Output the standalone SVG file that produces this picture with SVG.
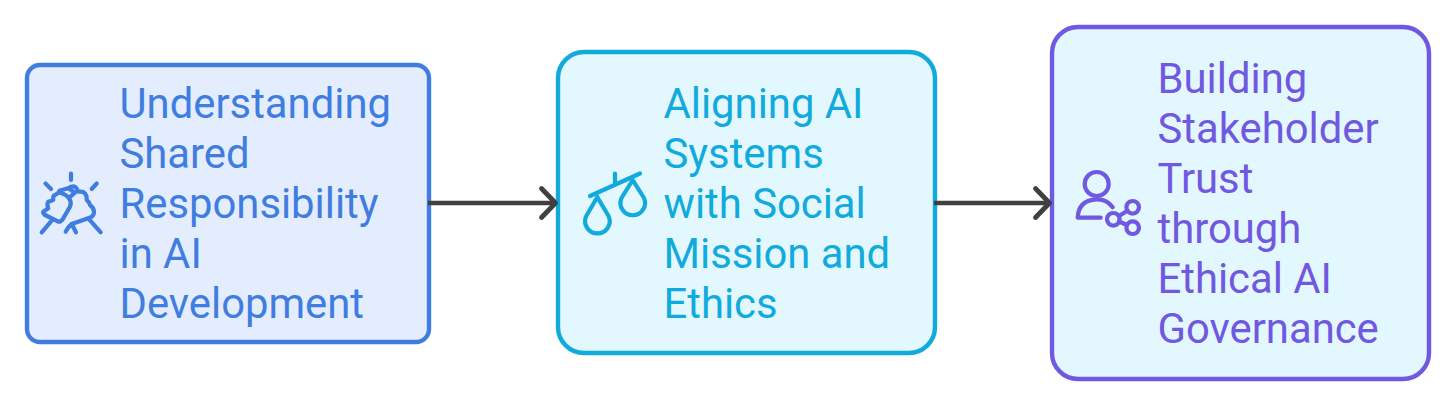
<svg xmlns="http://www.w3.org/2000/svg" width="1456" height="406" viewBox="0 0 1456 406">
<defs>
<marker id="arrow" markerUnits="userSpaceOnUse" markerWidth="30" markerHeight="40" refX="23" refY="20" orient="auto"><path d="M9 5.500 L23 20 L9 34.500" fill="none" stroke="#404040" stroke-width="4.800" stroke-linecap="round" stroke-linejoin="round"/></marker>
</defs>
<style>
.box{stroke-width:4.4}
.ic{fill:none;stroke-width:4.2;stroke-linecap:round;stroke-linejoin:round}
text{font-family:Roboto,"Liberation Sans",sans-serif;font-size:41.8px}
.conn{fill:none;stroke:#404040;stroke-width:4.600}
.blue{stroke:#3f7de0}.teal{stroke:#10abdc}.purple{stroke:#7058e0}
</style>
<rect width="1456" height="406" fill="#ffffff"/>
<g id="node-1">
<rect class="box blue" x="27" y="65" width="402" height="277" rx="13" fill="#e4edfe"/>
<g class="ic blue">
<path d="M71 173.500V180M45.500 183.500L51 189M96.700 183.500L91.700 189"/>
<path d="M59 192.500Q67 194 70 200Q71.500 203 70 206.700L63.300 218.300Q61 222 58.300 221.700L45 215Q42.500 213 43.300 211.700L48.300 208.300Q46.500 204 48.300 201.700L53.300 200Q52.500 196 55 195Z"/>
<path d="M59 192.500Q59 190 61.700 190L68.300 188.300Q72 185.500 75 186.700Q77 188 78.300 191.700Q83 191 85 193.300Q87 196 86.700 200Q89.500 202 90 205Q94 208 94 211.700Q94 215 91.700 216.700L88.300 218.300L71.700 224Q68 227 65.700 231.700"/>
<path d="M68.300 188.300L75 192.700L70 197"/>
<path d="M41.700 232.300L51.700 220.700M88.300 218.300L100.700 232.300M71.700 224L76 232.300"/>
</g>
<text x="119.500" y="118" fill="#3f7de0">Understanding</text>
<text x="119.500" y="168" fill="#3f7de0">Shared</text>
<text x="119.500" y="218" fill="#3f7de0">Responsibility</text>
<text x="119.500" y="268" fill="#3f7de0">in AI</text>
<text x="119.500" y="318" fill="#3f7de0">Development</text>
</g>
<g id="node-2">
<rect class="box teal" x="558" y="52" width="377" height="301" rx="26" fill="#e3f7ff"/>
<g class="ic teal">
<path d="M590 196L640 173.500M615 173.500V183"/>
<path d="M597.300 197L586 216.500A12.300 12.300 0 1 0 608.800 216.500Z"/>
<path d="M632.700 180L621.500 198A12.300 12.300 0 1 0 644 198Z"/>
</g>
<text x="663.500" y="118" fill="#10abdc">Aligning AI</text>
<text x="663.500" y="168" fill="#10abdc">Systems</text>
<text x="663.500" y="218" fill="#10abdc">with Social</text>
<text x="663.500" y="268" fill="#10abdc">Mission and</text>
<text x="663.500" y="318" fill="#10abdc">Ethics</text>
</g>
<g id="node-3">
<rect class="box purple" x="1052" y="27" width="377" height="352" rx="26" fill="#e3f7ff"/>
<g class="ic purple">
<circle cx="1096.700" cy="184" r="12"/>
<path d="M1100.700 217.700H1077.700Q1078.500 200 1096.700 199.300Q1107 199 1112.700 207.300"/>
<circle cx="1113.300" cy="219.300" r="6.300"/><circle cx="1132.700" cy="207.300" r="6.300"/><circle cx="1132.700" cy="227.700" r="6.300"/>
<path d="M1119 216L1127 211M1119 221.500L1127 225"/>
</g>
<text x="1157.500" y="93" fill="#7058e0">Building</text>
<text x="1157.500" y="143" fill="#7058e0">Stakeholder</text>
<text x="1157.500" y="193" fill="#7058e0">Trust</text>
<text x="1157.500" y="243" fill="#7058e0">through</text>
<text x="1157.500" y="293" fill="#7058e0">Ethical AI</text>
<text x="1157.500" y="343" fill="#7058e0">Governance</text>
</g>
<g id="connectors">
<path class="conn" d="M428 203H555.500" marker-end="url(#arrow)"/>
<path class="conn" d="M934 203H1049.500" marker-end="url(#arrow)"/>
</g>
</svg>
